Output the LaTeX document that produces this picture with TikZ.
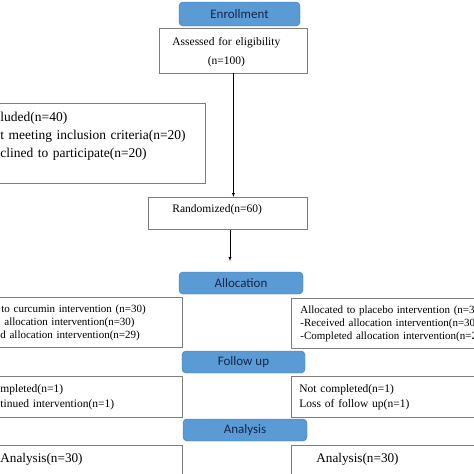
\documentclass[tikz,border=0pt]{standalone}
\usepackage{fontspec}
\setmainfont{Liberation Serif}
\newfontfamily\phasefont{Carlito}
\usetikzlibrary{arrows,positioning}
\definecolor{phaseblue}{RGB}{91,155,213}
\definecolor{phaseedge}{RGB}{65,113,156}
\definecolor{phasetext}{RGB}{22,38,72}
\definecolor{boxgray}{RGB}{125,125,125}

\begin{document}
\begin{tikzpicture}[x=1pt,y=-1pt,>=latex]
  \tikzstyle{phase}=[draw=phaseedge,fill=phaseblue,rounded corners=4pt,text=phasetext,
    font=\phasefont\fontsize{13}{15}\selectfont,minimum width=124pt,minimum height=22pt,inner sep=0pt]
  \tikzstyle{infobox}=[draw=boxgray,line width=0.8pt,fill=white,align=left,inner xsep=2pt,
    font=\fontsize{11.5}{13}\selectfont]
  \useasboundingbox (0,0) rectangle (474,474);
  \clip (0,0) rectangle (474,474);

  % phases
  \node[phase,minimum width=121pt,minimum height=24pt] (enroll) at (239.5,14) {Enrollment};
  \node[phase] (alloc) at (241,283) {Allocation};
  \node[phase,minimum width=123pt] (follow) at (243.5,362) {Follow up};
  \node[phase] (analysis) at (245,430) {Analysis};

  % enrollment
  \node[infobox,anchor=north west,inner xsep=13pt,text width=122pt,minimum height=43pt,
    font=\fontsize{11.5}{19}\selectfont] (assess) at (159,28)
    {\begin{tabular}{@{}c@{}}Assessed for eligibility\\(n=100)\end{tabular}};
  \node[infobox,anchor=north west,inner xsep=1pt,text width=204pt,minimum height=80pt,
    font=\fontsize{13.5}{18}\selectfont] (excl) at (-1,103)
    {luded(n=40)\\t meeting inclusion criteria(n=20)\\clined to participate(n=20)\\\mbox{}};
  \node[infobox,anchor=north west,inner xsep=24pt,text width=111pt,minimum height=32pt,
    font=\fontsize{11.5}{10}\selectfont] (rand) at (148,197) {Randomized(n=60)\\\mbox{}};
  \coordinate (allocin) at (230,261);

  % allocation
  \node[infobox,anchor=north west,text width=180pt,minimum height=50pt,
    font=\fontsize{11}{13}\selectfont] (curcumin) at (-2,297)
    {\hspace*{1pt}to curcumin intervention (n=30)\\\hspace*{4pt}allocation intervention(n=30)\\d allocation intervention(n=29)};
  \node[infobox,anchor=north west,inner xsep=9pt,text width=250pt,minimum height=50pt,
    font=\fontsize{11}{13}\selectfont] (placebo) at (291,298)
    {Allocated to placebo intervention (n=30)\\-Received allocation intervention(n=30)\\-Completed allocation intervention(n=29)};

  % follow up
  \node[infobox,anchor=north west,text width=180pt,minimum height=41pt,
    font=\fontsize{11.5}{15}\selectfont] (curfollow) at (-2,376)
    {mpleted(n=1)\\tinued intervention(n=1)};
  \node[infobox,anchor=north west,inner xsep=8pt,text width=250pt,minimum height=41pt,
    font=\fontsize{11.5}{15}\selectfont] (plafollow) at (291,376)
    {Not completed(n=1)\\Loss of follow up(n=1)};

  % analysis
  \node[infobox,anchor=north west,text width=180pt,inner ysep=8pt,
    font=\fontsize{13.2}{20}\selectfont] (curanalysis) at (-2,445) {Analysis(n=30)\\\mbox{}};
  \node[infobox,anchor=north west,inner xsep=25pt,inner ysep=8pt,text width=250pt,
    font=\fontsize{13.2}{20}\selectfont] (plaanalysis) at (291,445) {Analysis(n=30)\\\mbox{}};

  \path[->]
  (assess.south) edge (assess.south |- rand.north)
  (allocin |- rand.south) edge (allocin);
\end{tikzpicture}
\end{document}
